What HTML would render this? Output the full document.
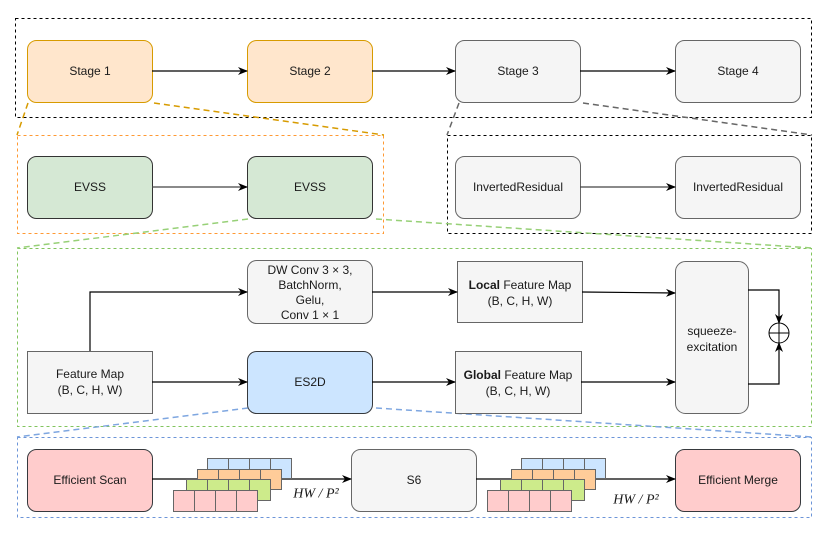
<!DOCTYPE html>
<html><head><meta charset="utf-8"><style>
html,body{margin:0;padding:0;background:#fff;}
svg{display:block;}
text{font-family:"Liberation Sans",sans-serif;font-size:12px;fill:#1a1a1a;text-anchor:middle;dominant-baseline:central;}
.m{font-family:"Liberation Serif",serif;font-style:italic;font-size:14px;}
</style></head><body>
<svg width="827" height="533" viewBox="0 0 827 533" xmlns="http://www.w3.org/2000/svg">
<defs><marker id="a" markerWidth="10" markerHeight="10" refX="9" refY="5" orient="auto" markerUnits="userSpaceOnUse"><path d="M0,1 L10,5 L0,9 L3,5 Z" fill="#000"/></marker></defs>
<rect x="15.5" y="18.5" width="796" height="99" fill="none" stroke="#000" stroke-dasharray="3,3"/>
<rect x="17.5" y="135.5" width="366" height="98" fill="none" stroke="#ff9933" stroke-dasharray="3,3"/>
<rect x="447.5" y="135.5" width="364" height="98" fill="none" stroke="#000" stroke-dasharray="3,3"/>
<rect x="17.5" y="248.5" width="794" height="178" fill="none" stroke="#82c45e" stroke-dasharray="3,3"/>
<rect x="17.5" y="437.5" width="794" height="80" fill="none" stroke="#6c95d8" stroke-dasharray="3,3"/>
<g fill="none" stroke-dasharray="6,4" stroke-width="1.5">
<line x1="28" y1="103" x2="17" y2="135" stroke="#d79b00"/>
<line x1="154" y1="103" x2="384" y2="135" stroke="#d79b00"/>
<line x1="459" y1="103" x2="447" y2="135" stroke="#666"/>
<line x1="583" y1="103" x2="812" y2="135" stroke="#666"/>
<line x1="248" y1="219" x2="17" y2="248" stroke="#97d077"/>
<line x1="376" y1="219" x2="812" y2="248" stroke="#97d077"/>
<line x1="248" y1="408" x2="17" y2="437" stroke="#7ea6e0"/>
<line x1="376" y1="408" x2="812" y2="437" stroke="#7ea6e0"/>
</g>
<g stroke-width="1">
<rect x="27.5" y="40.5" width="125" height="62" rx="9" fill="#ffe6cc" stroke="#d79b00"/>
<rect x="247.5" y="40.5" width="125" height="62" rx="9" fill="#ffe6cc" stroke="#d79b00"/>
<rect x="455.5" y="40.5" width="125" height="62" rx="9" fill="#f5f5f5" stroke="#666"/>
<rect x="675.5" y="40.5" width="125" height="62" rx="9" fill="#f5f5f5" stroke="#666"/>
<rect x="27.5" y="156.5" width="125" height="62" rx="9" fill="#d5e8d4" stroke="#333"/>
<rect x="247.5" y="156.5" width="125" height="62" rx="9" fill="#d5e8d4" stroke="#333"/>
<rect x="455.5" y="156.5" width="125" height="62" rx="9" fill="#f5f5f5" stroke="#666"/>
<rect x="675.5" y="156.5" width="125" height="62" rx="9" fill="#f5f5f5" stroke="#666"/>
<rect x="247.5" y="260.5" width="125" height="63" rx="9" fill="#f5f5f5" stroke="#666"/>
<rect x="457.5" y="261.5" width="125" height="61" fill="#f5f5f5" stroke="#666"/>
<rect x="27.5" y="351.5" width="125" height="62" fill="#f5f5f5" stroke="#666"/>
<rect x="247.5" y="351.5" width="125" height="62" rx="9" fill="#cce5ff" stroke="#36393d"/>
<rect x="455.5" y="351.5" width="126" height="62" fill="#f5f5f5" stroke="#666"/>
<rect x="675.5" y="261.5" width="73" height="152" rx="10" fill="#f5f5f5" stroke="#666"/>
<rect x="27.5" y="449.5" width="125" height="62" rx="9" fill="#ffcccc" stroke="#36393d"/>
<rect x="351.5" y="449.5" width="125" height="62" rx="9" fill="#f5f5f5" stroke="#666"/>
<rect x="675.5" y="449.5" width="125" height="62" rx="9" fill="#ffcccc" stroke="#36393d"/>
</g>
<g stroke="#000" stroke-width="1.2" fill="none" marker-end="url(#a)">
<line x1="152" y1="71" x2="247" y2="71"/>
<line x1="372" y1="71" x2="455" y2="71"/>
<line x1="580" y1="71" x2="675" y2="71"/>
<line x1="152" y1="187" x2="247" y2="187" stroke="#444"/>
<line x1="580" y1="187" x2="675" y2="187" stroke="#444"/>
<polyline points="90,351 90,292 247,292"/>
<line x1="372" y1="292" x2="457" y2="292"/>
<line x1="582" y1="292" x2="675" y2="293"/>
<line x1="152" y1="382" x2="247" y2="382"/>
<line x1="372" y1="382" x2="455" y2="382"/>
<line x1="581" y1="382" x2="675" y2="382"/>
<polyline points="748,290 779,290 779,323"/>
<polyline points="748,384 779,384 779,343"/>
<line x1="152" y1="479" x2="351" y2="479"/>
<line x1="476" y1="479" x2="675" y2="479"/>
</g>
<circle cx="779" cy="333" r="10" fill="#fff" stroke="#000"/>
<line x1="769" y1="333" x2="789" y2="333" stroke="#000"/>
<line x1="779" y1="323" x2="779" y2="343" stroke="#000"/>
<g stroke="#666" stroke-width="1">
<g id="st">
<rect x="207.5" y="458.5" width="84" height="20" fill="#cce5ff"/>
<path d="M228.5,458.5v20M249.5,458.5v20M270.5,458.5v20"/>
<rect x="197.5" y="469.5" width="84" height="20" fill="#ffcc99"/>
<path d="M218.5,469.5v20M239.5,469.5v20M260.5,469.5v20"/>
<rect x="186.5" y="479.5" width="84" height="21" fill="#cdeb8b"/>
<path d="M207.5,479.5v21M228.5,479.5v21M249.5,479.5v21"/>
<rect x="173.5" y="490.5" width="84" height="21" fill="#ffcccc"/>
<path d="M194.5,490.5v21M215.5,490.5v21M236.5,490.5v21"/>
</g>
<use href="#st" x="314"/>
</g>
<text x="90" y="71">Stage 1</text>
<text x="310" y="71">Stage 2</text>
<text x="518" y="71">Stage 3</text>
<text x="738" y="71">Stage 4</text>
<text x="90" y="187">EVSS</text>
<text x="310" y="187">EVSS</text>
<text x="518" y="187">InvertedResidual</text>
<text x="738" y="187">InvertedResidual</text>
<text x="310" y="270">DW Conv 3 × 3,</text>
<text x="310" y="285">BatchNorm,</text>
<text x="310" y="300">Gelu,</text>
<text x="310" y="315">Conv 1 × 1</text>
<text x="520" y="285"><tspan font-weight="bold">Local</tspan> Feature Map</text>
<text x="520" y="301">(B, C, H, W)</text>
<text x="90" y="374">Feature Map</text>
<text x="90" y="390">(B, C, H, W)</text>
<text x="310" y="382">ES2D</text>
<text x="518" y="375"><tspan font-weight="bold">Global</tspan> Feature Map</text>
<text x="518" y="391">(B, C, H, W)</text>
<text x="712" y="331">squeeze-</text>
<text x="712" y="347">excitation</text>
<text x="90" y="480">Efficient Scan</text>
<text x="414" y="480">S6</text>
<text x="738" y="480">Efficient Merge</text>
<text class="m" x="316" y="494">HW / P²</text>
<text class="m" x="636" y="500">HW / P²</text>
</svg>
</body></html>
